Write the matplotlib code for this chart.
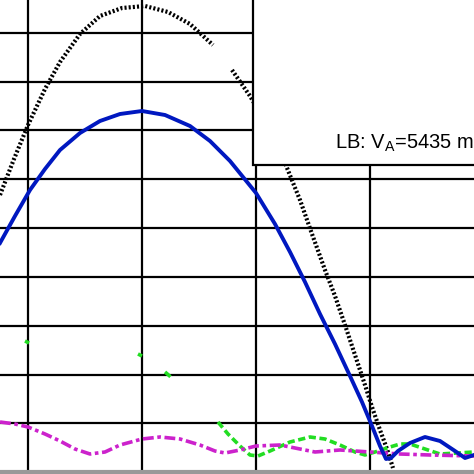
import matplotlib
matplotlib.use("Agg")
import matplotlib.pyplot as plt
from matplotlib.patches import Rectangle

blue_x = [0,15,30,45,60,80,100,120,142,165,190,210,230,256,275,290,305,320,335,350,362,372,380,386,391,398,410,425,440,455,465,474]
blue_y = [231,258,284,305,324,341,353,360,363,359,348,333,313,281,250,222,192,160,130,98,72,48,28,15,16,23,31,37,33,23,16,19]
dot1_x = [0,14,28,45,60,80,100,122,145,168,190,213]
dot1_y = [279,315,349,385,412,440,458,466,468,462,450,429]
dot2_x = [232,250,270,285,300,312,325,335,345,355,365,372,380,387,393]
dot2_y = [404,378,344,311,274,240,204,178,149,119,89,67,44,25,6]
green_seg = [([25,29],[133,131]), ([138,142],[120,118]), ([165,172],[102,96]),
             ([218,228,240,250,258,270,290,310,325,340,355,365,375,390,400,410,425,440,474],
              [52,40,28,19,18,23,32,37,35,29,22,19,22,27,30,30,25,20,22])]
mag_x = [0,15,28,45,60,75,90,105,120,142,160,180,200,215,225,240,256,280,300,315,340,370,400,430,474]
mag_y = [52,50,47,40,33,25,20,22,29,35,37,35,29,23,21,24,28,29,25,22,24,22,20,19,18]
vgrid = [28,142,256,370]
hgrid = [51,99,148,197,246,295,344,392,441]
label = "LB: V$_\\mathregular{A}$=5435 m"

fig = plt.figure(figsize=(4.74,4.74), dpi=100)
ax = fig.add_axes([0,0,1,1])
ax.set_xlim(0,474); ax.set_ylim(0,474)
ax.axis('off')
for v in vgrid: ax.axvline(v, color='black', lw=1.6, zorder=1)
for h in hgrid: ax.axhline(h, color='black', lw=1.6, zorder=1)
ax.axhline(2, color='#999999', lw=3, zorder=1)
for dx, dy in [(dot1_x, dot1_y), (dot2_x, dot2_y)]:
    ax.plot(dx, dy, color='black', ls=(0,(0.5,0.5)), lw=3, zorder=3)
ax.plot(blue_x, blue_y, color='#0018c0', lw=2.8, zorder=4)
for gx, gy in green_seg:
    ax.plot(gx, gy, color='#22dd22', ls=(0,(2,1)), lw=2.6, zorder=3)
ax.plot(mag_x, mag_y, color='#cc22cc', ls=(0,(3,1,1,1)), lw=2.6, zorder=3)
ax.add_patch(Rectangle((253,309),240,180, facecolor='white', edgecolor='black', lw=1.6, zorder=5))
ax.text(335,331,label, fontsize=14.5, family='Liberation Sans', va='center', zorder=6, clip_on=False)
fig.savefig('out.png', dpi=100)
